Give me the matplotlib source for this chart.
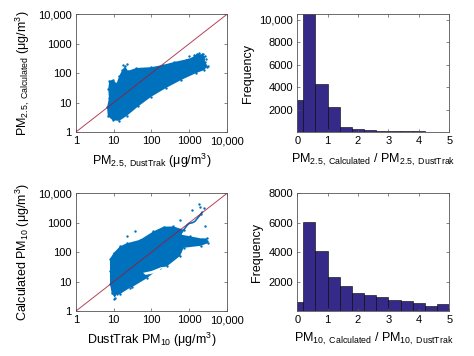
import numpy as np
import matplotlib
matplotlib.use('Agg')
from matplotlib import pyplot as plt

plt.rcParams['font.family'] = ['Liberation Sans', 'DejaVu Sans']
plt.rcParams['mathtext.fontset'] = 'custom'
plt.rcParams['mathtext.rm'] = 'Liberation Sans'
plt.rcParams['mathtext.it'] = 'Liberation Sans'

# outline of the PM2.5 scatter cloud (DustTrak, Calculated)
pm25_x = [7.0, 6.7, 7.5, 7.2, 7.7, 9.5, 12, 14, 17, 20, 24, 40, 100, 200, 400, 800,
          1200, 1600, 2200, 2600, 2600, 3100, 2400, 1500, 600, 250, 100, 45, 22, 14, 9.5]
pm25_y = [3.5, 7, 14, 30, 55, 60, 45, 80, 130, 170, 120, 150, 160, 190, 240, 290,
          340, 460, 430, 370, 240, 170, 125, 100, 58, 32, 16, 7.5, 3.5, 2.4, 2.5]
pm25_out_x = [1800, 2300, 2800, 3000, 1300, 22, 18, 1000]
pm25_out_y = [480, 450, 300, 160, 420, 210, 190, 380]

# outline of the PM10 scatter cloud
pm10_x = [10.8, 8.9, 8.0, 8.0, 8.0, 10, 14.7, 22, 50, 113, 210, 383, 710, 578, 1070,
          2180, 2900, 3200, 2000, 710, 575, 255, 170, 75, 30, 27, 14.7, 12, 10]
pm10_y = [2.8, 4, 8.3, 23, 60, 94, 158, 200, 265, 510, 740, 750, 580, 400, 345,
          290, 300, 205, 165, 141, 75, 33, 30, 13, 6.4, 6.2, 3.8, 3.7, 2.5]
# thin white gap inside the PM10 cloud
gap_x = [60, 100, 170, 200, 180, 110, 70]
gap_y = [20, 23, 30, 32, 27, 19, 17]
# points running along the 1:1 line at high concentration
trail_x = [600, 700, 800, 900, 1000, 1200, 1400, 1700, 2000, 2200]
trail_y = [420, 560, 700, 850, 950, 1000, 1100, 1500, 1900, 2300]
pm10_out_x = [1770, 2400, 1200, 580, 2650, 2900, 22, 37, 1900, 2100]
pm10_out_y = [4270, 3100, 2750, 1260, 760, 240, 350, 515, 3500, 2000]

# histograms of the ratio Calculated / DustTrak, bin centres 0, 0.4, ... 4.8
bin_centres = [0, 0.4, 0.8, 1.2, 1.6, 2.0, 2.4, 2.8, 3.2, 3.6, 4.0, 4.4, 4.8]
ratio25_counts = [2880, 11500, 4320, 2200, 410, 235, 150, 120, 90, 90, 60, 30, 20]
ratio10_counts = [630, 6045, 4110, 2290, 1730, 1260, 1120, 990, 760, 700, 540, 360, 495]

blue = '#0072BD'
red = '#A2142F'
barcol = '#352a87'
tick_fs = 8
lab_fs = 9

fig = plt.figure(figsize=(4.74, 3.56), dpi=100)
ax1 = fig.add_axes([0.160, 0.629, 0.319, 0.331])
ax2 = fig.add_axes([0.627, 0.629, 0.321, 0.331])
ax3 = fig.add_axes([0.160, 0.126, 0.319, 0.331])
ax4 = fig.add_axes([0.627, 0.126, 0.321, 0.331])

decades = [1, 10, 100, 1000, 10000]
decade_labels = ['1', '10', '100', '1000', '10,000']


def style(ax):
    for s in ax.spines.values():
        s.set_color('#555555')
        s.set_linewidth(0.6)
    ax.tick_params(direction='in', length=2, width=0.5, color='#555555',
                   top=True, right=True, labelsize=tick_fs, pad=3)
    ax.tick_params(which='minor', length=0)


def scatter_panel(ax, xs, ys):
    ax.set_xscale('log')
    ax.set_yscale('log')
    ax.set_xlim(1, 10000)
    ax.set_ylim(1, 10000)
    ax.set_xticks(decades)
    ax.set_xticklabels(decade_labels)
    ax.set_yticks(decades)
    ax.set_yticklabels(decade_labels)
    ax.fill(xs, ys, color=blue, lw=0)
    ax.scatter(xs, ys, s=3, color=blue, lw=0)
    style(ax)


scatter_panel(ax1, pm25_x, pm25_y)
ax1.scatter(pm25_out_x, pm25_out_y, s=3, color=blue, lw=0)
ax1.plot([1, 10000], [1, 10000], color=red, lw=0.7, alpha=0.8)
ax1.set_xlabel(r'PM$_{\mathrm{2.5,\ DustTrak}}$ (μg/m$^{3}$)', fontsize=lab_fs)
ax1.set_ylabel(r'PM$_{\mathrm{2.5,\ Calculated}}$ (μg/m$^{3}$)', fontsize=lab_fs)

scatter_panel(ax3, pm10_x, pm10_y)
ax3.fill(gap_x, gap_y, color='white', lw=0)
ax3.plot(trail_x, trail_y, color=blue, lw=1.2)
ax3.scatter(pm10_out_x, pm10_out_y, s=3, color=blue, lw=0)
ax3.plot([1, 10000], [1, 10000], color=red, lw=0.7, alpha=0.8)
ax3.set_xlabel(r'DustTrak PM$_{\mathrm{10}}$ (μg/m$^{3}$)', fontsize=lab_fs)
ax3.set_ylabel(r'Calculated PM$_{\mathrm{10}}$ (μg/m$^{3}$)', fontsize=lab_fs)

ax2.bar(bin_centres, ratio25_counts, width=0.4, color=barcol, edgecolor='black', lw=0.4)
ax2.set_xlim(0, 5)
ax2.set_ylim(0, 10500)
ax2.set_yticks([2000, 4000, 6000, 8000, 10000])
ax2.set_yticklabels(['2000', '4000', '6000', '8000', '10,000'])
ax2.set_xticks([0, 1, 2, 3, 4, 5])
ax2.set_ylabel('Frequency', fontsize=lab_fs)
ax2.set_xlabel(r'PM$_{\mathrm{2.5,\ Calculated}}$ / PM$_{\mathrm{2.5,\ DustTrak}}$', fontsize=lab_fs)
style(ax2)

ax4.bar(bin_centres, ratio10_counts, width=0.4, color=barcol, edgecolor='black', lw=0.4)
ax4.set_xlim(0, 5)
ax4.set_ylim(0, 8000)
ax4.set_yticks([2000, 4000, 6000, 8000])
ax4.set_xticks([0, 1, 2, 3, 4, 5])
ax4.set_ylabel('Frequency', fontsize=lab_fs)
ax4.set_xlabel(r'PM$_{\mathrm{10,\ Calculated}}$ / PM$_{\mathrm{10,\ DustTrak}}$', fontsize=lab_fs)
style(ax4)

fig.savefig('out.png', dpi=100)
